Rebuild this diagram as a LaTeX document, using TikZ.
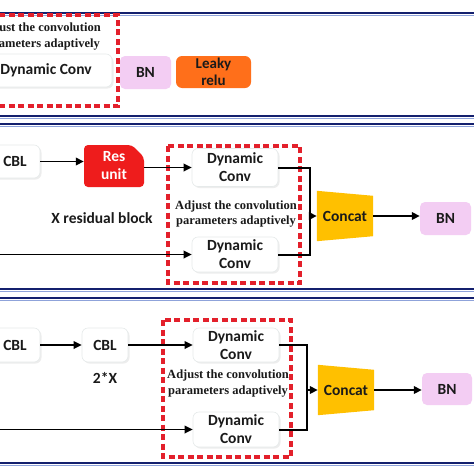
\documentclass[tikz,border=0pt]{standalone}
\usepackage{fontspec}
\setmainfont{Carlito}
\newfontfamily\serifb{Liberation Serif}
\usetikzlibrary{arrows.meta,shapes.misc,shadows,backgrounds}
\definecolor{navy}{HTML}{14206E}
\definecolor{lightnavy}{HTML}{8FA3DA}
\definecolor{dashred}{HTML}{E3202B}
\definecolor{resred}{HTML}{EE1C1C}
\definecolor{leaky}{HTML}{FF6F1A}
\definecolor{bnpink}{HTML}{F3CDF3}
\definecolor{gold}{HTML}{FFC000}
\definecolor{txt}{HTML}{1A1A1A}
\definecolor{boxedge}{HTML}{E6EAEA}
\tikzset{
  lbl/.style={font=\bfseries\fontsize{15.5}{18}\selectfont, text=txt, align=center, inner sep=0pt},
  wbox/.style={lbl, draw=boxedge, fill=white, rounded corners=6pt, line width=0.6pt,
    drop shadow={opacity=0.14, shadow xshift=1.5pt, shadow yshift=-1.5pt}},
  bnbox/.style={lbl, fill=bnpink, rounded corners=5pt},
  redbox/.style={draw=dashred, dash pattern=on 6pt off 3.5pt, line width=3.2pt},
  arr/.style={-{Triangle[length=8pt,width=7.5pt]}, line width=1.8pt},
  conn/.style={line width=2pt},
  note/.style={font=\serifb\bfseries\fontsize{12.5}{15.5}\selectfont, text=txt, align=center, inner sep=0pt},
  panel/.style={navy, line width=2.4pt},
  panelshade/.style={lightnavy, line width=0.8pt},
  cat/.style={lbl, minimum width=56pt, minimum height=50pt}
}
\begin{document}
\begin{tikzpicture}[x=1pt, y=-1pt]
\useasboundingbox (0,0) rectangle (474,474);
\begin{scope}[on background layer]
\fill[white] (0,0) rectangle (474,474);
\end{scope}
\clip (0,0) rectangle (474,474);

% panel separators
\foreach \yy in {13,116,124,289,298,463} {
  \draw[panel] (0,\yy) -- (474,\yy);
  \draw[panelshade] (0,\yy+2) -- (474,\yy+2);
}

% ---------- panel 1 ----------
\node[wbox, minimum width=132pt, minimum height=33pt] (dc1) at (46,70.5) {Dynamic Conv};
\node[note] (adj1) at (40,36.5) {Adjust the convolution\\parameters adaptively};
\draw[redbox] (-5,15) rectangle (118,106);
\node[bnbox, minimum width=51pt, minimum height=33pt] (bn1) at (145.5,72.5) {BN};
\node[lbl, fill=leaky, rounded corners=6pt, minimum width=75pt, minimum height=32pt, font=\bfseries\fontsize{15}{17}\selectfont] (lr1) at (213.5,72) {Leaky\\relu};

% ---------- panel 2 ----------
\node[wbox, minimum width=50pt, minimum height=33pt] (cbl2) at (15,161.5) {CBL};
\node[lbl, text=white, fill=resred, chamfered rectangle, chamfered rectangle corners=north east,
  chamfered rectangle xsep=6pt, chamfered rectangle ysep=6pt, rounded corners=4pt,
  minimum width=60pt, minimum height=42pt, font=\bfseries\fontsize{15.5}{18}\selectfont] (res2) at (114,166) {Res\\unit};
\node[wbox, minimum width=86pt, minimum height=38pt] (dc2a) at (235,167.5) {Dynamic\\Conv};
\node[wbox, minimum width=86pt, minimum height=35pt] (dc2b) at (235,254.5) {Dynamic\\Conv};
\node[lbl] (xres) at (102,218) {X residual block};
\node[note] (adj2) at (236,214) {Adjust the convolution\\parameters adaptively};
\draw[redbox] (168,146) rectangle (300,283);
\node[cat] (cat2) at (345,216) {Concat};
\begin{scope}[on background layer]
\fill[gold] (cat2.north west) -- ([yshift=-5pt]cat2.north east) -- ([yshift=5pt]cat2.south east) -- (cat2.south west) -- cycle;
\end{scope}
\node[bnbox, minimum width=51pt, minimum height=33pt] (bn2) at (445.5,218.5) {BN};
\coordinate (s2) at (0,254.5);
\coordinate (j2) at (310,216);
\draw[arr] (cbl2.east) -- (cbl2.east -| res2.west);
\draw[arr] (res2.east |- dc2a.west) -- (dc2a.west);
\draw[arr] (s2) -- (dc2b.west);
\draw[conn] (dc2a.east) -| (j2) |- (dc2b.east);
\draw[arr] (j2) -- (cat2.west);
\draw[arr] (cat2.east) -- (cat2.east -| bn2.west);

% ---------- panel 3 ----------
\node[wbox, minimum width=50pt, minimum height=34pt] (cbl3a) at (15,345) {CBL};
\node[wbox, minimum width=46pt, minimum height=34pt] (cbl3b) at (105,345) {CBL};
\node[lbl] (x3) at (105,378) {2*X};
\node[wbox, minimum width=86pt, minimum height=34pt] (dc3a) at (236,345) {Dynamic\\Conv};
\node[wbox, minimum width=86pt, minimum height=35pt] (dc3b) at (236,429.5) {Dynamic\\Conv};
\node[note] (adj3) at (228,383.5) {Adjust the convolution\\parameters adaptively};
\draw[redbox] (163,320) rectangle (291,457);
\node[cat] (cat3) at (346,390) {Concat};
\begin{scope}[on background layer]
\fill[gold] (cat3.north west) -- ([yshift=-5pt]cat3.north east) -- ([yshift=5pt]cat3.south east) -- (cat3.south west) -- cycle;
\end{scope}
\node[bnbox, minimum width=50pt, minimum height=32pt] (bn3) at (447,389) {BN};
\coordinate (s3) at (0,429.5);
\coordinate (j3) at (307,390);
\draw[arr] (cbl3a) -- (cbl3b);
\draw[arr] (cbl3b) -- (dc3a);
\draw[arr] (s3) -- (dc3b.west);
\draw[conn] (dc3a.east) -| (j3) |- (dc3b.east);
\draw[arr] (j3) -- (cat3.west);
\draw[arr] (cat3.east) -- (cat3.east -| bn3.west);
\end{tikzpicture}
\end{document}
